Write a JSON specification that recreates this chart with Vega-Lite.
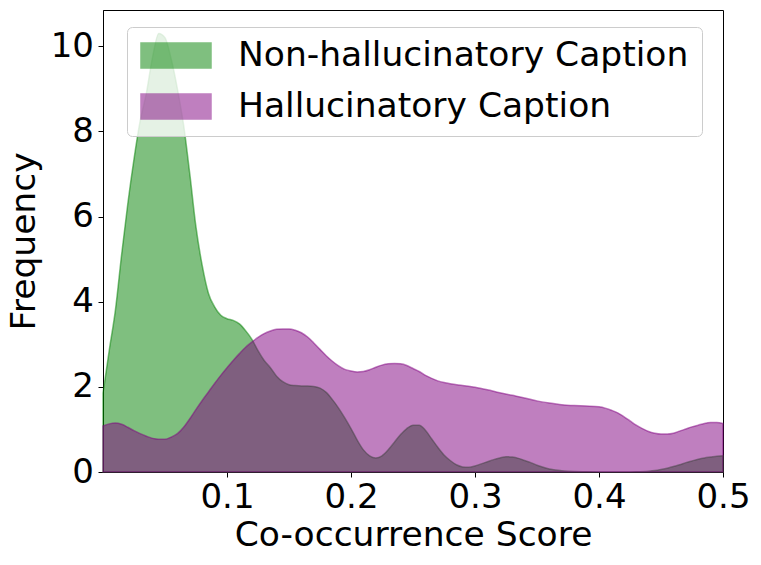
{
  "$schema": "https://vega.github.io/schema/vega-lite/v6.json",
  "width": 620,
  "height": 462,
  "autosize": {"type": "none"},
  "padding": {"left": 103, "top": 10, "right": 38, "bottom": 93},
  "background": "white",
  "config": {
    "view": {"stroke": "black", "strokeWidth": 1},
    "font": "DejaVu Sans"
  },
  "datasets": {
    "nonhal": [
      {"score":0.000,"freq":1.85},{"score":0.005,"freq":2.85},{"score":0.010,"freq":3.8},{"score":0.015,"freq":5.1},{"score":0.020,"freq":6.3},{"score":0.025,"freq":7.35},{"score":0.030,"freq":8.25},{"score":0.035,"freq":8.9},{"score":0.040,"freq":9.75},{"score":0.045,"freq":10.3},{"score":0.050,"freq":10.2},{"score":0.055,"freq":9.7},{"score":0.060,"freq":9.0},{"score":0.065,"freq":8.15},{"score":0.070,"freq":7.0},{"score":0.075,"freq":5.75},{"score":0.080,"freq":4.85},{"score":0.085,"freq":4.2},{"score":0.090,"freq":3.88},{"score":0.095,"freq":3.68},{"score":0.100,"freq":3.6},{"score":0.105,"freq":3.56},{"score":0.110,"freq":3.48},{"score":0.115,"freq":3.32},{"score":0.120,"freq":3.12},{"score":0.125,"freq":2.85},{"score":0.130,"freq":2.62},{"score":0.135,"freq":2.45},{"score":0.140,"freq":2.25},{"score":0.145,"freq":2.12},{"score":0.150,"freq":2.05},{"score":0.155,"freq":2.03},{"score":0.160,"freq":2.02},{"score":0.165,"freq":2.02},{"score":0.170,"freq":2.01},{"score":0.175,"freq":1.97},{"score":0.180,"freq":1.87},{"score":0.185,"freq":1.7},{"score":0.190,"freq":1.5},{"score":0.195,"freq":1.27},{"score":0.200,"freq":1.02},{"score":0.205,"freq":0.75},{"score":0.210,"freq":0.52},{"score":0.215,"freq":0.38},{"score":0.220,"freq":0.33},{"score":0.225,"freq":0.38},{"score":0.230,"freq":0.52},{"score":0.235,"freq":0.7},{"score":0.240,"freq":0.88},{"score":0.245,"freq":1.02},{"score":0.250,"freq":1.1},{"score":0.255,"freq":1.1},{"score":0.260,"freq":0.98},{"score":0.265,"freq":0.78},{"score":0.270,"freq":0.58},{"score":0.275,"freq":0.4},{"score":0.280,"freq":0.27},{"score":0.285,"freq":0.17},{"score":0.290,"freq":0.12},{"score":0.295,"freq":0.11},{"score":0.300,"freq":0.14},{"score":0.305,"freq":0.19},{"score":0.310,"freq":0.24},{"score":0.315,"freq":0.29},{"score":0.320,"freq":0.33},{"score":0.325,"freq":0.36},{"score":0.330,"freq":0.35},{"score":0.335,"freq":0.32},{"score":0.340,"freq":0.27},{"score":0.345,"freq":0.22},{"score":0.350,"freq":0.16},{"score":0.355,"freq":0.11},{"score":0.360,"freq":0.07},{"score":0.370,"freq":0.03},{"score":0.380,"freq":0.01},{"score":0.390,"freq":0.005},{"score":0.400,"freq":0.0},{"score":0.410,"freq":0.0},{"score":0.420,"freq":0.0},{"score":0.430,"freq":0.005},{"score":0.440,"freq":0.02},{"score":0.445,"freq":0.035},{"score":0.450,"freq":0.06},{"score":0.455,"freq":0.09},{"score":0.460,"freq":0.13},{"score":0.465,"freq":0.17},{"score":0.470,"freq":0.22},{"score":0.475,"freq":0.26},{"score":0.480,"freq":0.3},{"score":0.485,"freq":0.33},{"score":0.490,"freq":0.35},{"score":0.495,"freq":0.37},{"score":0.500,"freq":0.38}
    ],
    "hal": [
      {"score":0.000,"freq":1.08},{"score":0.005,"freq":1.13},{"score":0.010,"freq":1.15},{"score":0.015,"freq":1.12},{"score":0.020,"freq":1.05},{"score":0.025,"freq":0.97},{"score":0.030,"freq":0.9},{"score":0.035,"freq":0.84},{"score":0.040,"freq":0.79},{"score":0.045,"freq":0.77},{"score":0.050,"freq":0.77},{"score":0.055,"freq":0.82},{"score":0.060,"freq":0.9},{"score":0.065,"freq":1.05},{"score":0.070,"freq":1.25},{"score":0.075,"freq":1.47},{"score":0.080,"freq":1.68},{"score":0.085,"freq":1.88},{"score":0.090,"freq":2.08},{"score":0.095,"freq":2.27},{"score":0.100,"freq":2.45},{"score":0.105,"freq":2.62},{"score":0.110,"freq":2.78},{"score":0.115,"freq":2.93},{"score":0.120,"freq":3.05},{"score":0.125,"freq":3.16},{"score":0.130,"freq":3.25},{"score":0.135,"freq":3.31},{"score":0.140,"freq":3.35},{"score":0.145,"freq":3.36},{"score":0.150,"freq":3.36},{"score":0.155,"freq":3.33},{"score":0.160,"freq":3.27},{"score":0.165,"freq":3.17},{"score":0.170,"freq":3.03},{"score":0.175,"freq":2.88},{"score":0.180,"freq":2.73},{"score":0.185,"freq":2.6},{"score":0.190,"freq":2.49},{"score":0.195,"freq":2.41},{"score":0.200,"freq":2.37},{"score":0.205,"freq":2.35},{"score":0.210,"freq":2.36},{"score":0.215,"freq":2.4},{"score":0.220,"freq":2.46},{"score":0.225,"freq":2.51},{"score":0.230,"freq":2.54},{"score":0.235,"freq":2.55},{"score":0.240,"freq":2.54},{"score":0.245,"freq":2.5},{"score":0.250,"freq":2.43},{"score":0.255,"freq":2.36},{"score":0.260,"freq":2.27},{"score":0.265,"freq":2.2},{"score":0.270,"freq":2.14},{"score":0.275,"freq":2.1},{"score":0.280,"freq":2.07},{"score":0.290,"freq":2.03},{"score":0.300,"freq":1.99},{"score":0.310,"freq":1.93},{"score":0.320,"freq":1.86},{"score":0.330,"freq":1.8},{"score":0.340,"freq":1.74},{"score":0.350,"freq":1.67},{"score":0.360,"freq":1.62},{"score":0.370,"freq":1.58},{"score":0.380,"freq":1.56},{"score":0.390,"freq":1.55},{"score":0.400,"freq":1.53},{"score":0.405,"freq":1.5},{"score":0.410,"freq":1.45},{"score":0.415,"freq":1.39},{"score":0.420,"freq":1.3},{"score":0.425,"freq":1.2},{"score":0.430,"freq":1.1},{"score":0.435,"freq":1.02},{"score":0.440,"freq":0.95},{"score":0.445,"freq":0.91},{"score":0.450,"freq":0.89},{"score":0.455,"freq":0.89},{"score":0.460,"freq":0.91},{"score":0.465,"freq":0.96},{"score":0.470,"freq":1.01},{"score":0.475,"freq":1.06},{"score":0.480,"freq":1.1},{"score":0.485,"freq":1.14},{"score":0.490,"freq":1.16},{"score":0.495,"freq":1.16},{"score":0.500,"freq":1.14}
    ]
  },
  "encoding": {
    "x": {
      "field": "score", "type": "quantitative",
      "scale": {"domain": [0, 0.5], "nice": false, "zero": false},
      "axis": {
        "title": "Co-occurrence Score", "values": [0.1, 0.2, 0.3, 0.4, 0.5], "format": ".1f",
        "grid": false, "domainColor": "black", "tickColor": "black", "tickSize": 5, "tickWidth": 1,
        "labelFlush": false, "labelOverlap": false, "labelBound": false,
        "labelFontSize": 34, "labelColor": "black", "labelPadding": 3, "labelFont": "DejaVu Sans",
        "titleFontSize": 34.5, "titleFontWeight": "normal", "titleColor": "black", "titlePadding": 4, "titleFont": "DejaVu Sans"
      }
    },
    "y": {
      "field": "freq", "type": "quantitative",
      "scale": {"domain": [0, 10.85], "nice": false},
      "axis": {
        "title": "Frequency", "values": [0, 2, 4, 6, 8, 10],
        "grid": false, "domainColor": "black", "tickColor": "black", "tickSize": 5, "tickWidth": 1,
        "labelFlush": false, "labelOverlap": false,
        "labelFontSize": 34, "labelColor": "black", "labelPadding": 4.5, "labelFont": "DejaVu Sans",
        "titleFontSize": 34.5, "titleFontWeight": "normal", "titleColor": "black", "titlePadding": 9, "titleFont": "DejaVu Sans"
      }
    }
  },
  "layer": [
    {
      "data": {"name": "nonhal"},
      "mark": {"type": "area", "fillOpacity": 0.5, "strokeOpacity": 0.5, "strokeWidth": 1.5, "interpolate": "monotone"},
      "encoding": {
        "color": {
          "datum": "Non-hallucinatory Caption", "type": "nominal",
          "scale": {"domain": ["Non-hallucinatory Caption", "Hallucinatory Caption"], "range": ["green", "purple"]},
          "legend": {
            "title": null, "orient": "none", "legendX": 24, "legendY": 17,
            "labelFontSize": 34.5, "labelFont": "DejaVu Sans", "labelColor": "black", "labelLimit": 0, "labelOffset": 26,
            "symbolType": "M-1,-0.357H1V0.357H-1Z", "symbolSize": 4900, "symbolOpacity": 0.5, "symbolStrokeWidth": 1.5,
            "clipHeight": 31, "rowPadding": 16, "padding": 13,
            "fillColor": "rgba(255,255,255,0.8)", "strokeColor": "#cccccc", "cornerRadius": 5
          }
        },
        "stroke": {
          "datum": "Non-hallucinatory Caption", "type": "nominal",
          "scale": {"domain": ["Non-hallucinatory Caption", "Hallucinatory Caption"], "range": ["green", "purple"]},
          "legend": {
            "title": null, "orient": "none", "legendX": 24, "legendY": 17,
            "labelFontSize": 34.5, "labelFont": "DejaVu Sans", "labelColor": "black", "labelLimit": 0, "labelOffset": 26,
            "symbolType": "M-1,-0.357H1V0.357H-1Z", "symbolSize": 4900, "symbolOpacity": 0.5, "symbolStrokeWidth": 1.5,
            "clipHeight": 31, "rowPadding": 16, "padding": 13,
            "fillColor": "rgba(255,255,255,0.8)", "strokeColor": "#cccccc", "cornerRadius": 5
          }
        }
      }
    },
    {
      "data": {"name": "hal"},
      "mark": {"type": "area", "fillOpacity": 0.5, "strokeOpacity": 0.5, "strokeWidth": 1.5, "interpolate": "monotone"},
      "encoding": {
        "color": {"datum": "Hallucinatory Caption", "type": "nominal"},
        "stroke": {"datum": "Hallucinatory Caption", "type": "nominal"}
      }
    }
  ]
}
